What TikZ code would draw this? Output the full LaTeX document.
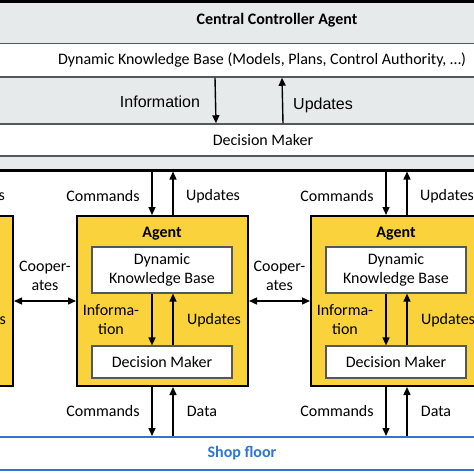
\documentclass[tikz,border=0pt]{standalone}
\usepackage{fontspec}
\setmainfont{Carlito}
\newfontfamily\arialfont{Liberation Sans}
\usetikzlibrary{arrows.meta,calc,positioning}
\definecolor{ccgray}{RGB}{231,234,235}
\definecolor{framegray}{RGB}{85,88,90}
\definecolor{agentyellow}{RGB}{250,210,60}
\definecolor{shopblue}{RGB}{46,117,212}

\begin{document}
\fontsize{16}{19}\selectfont
\begin{tikzpicture}[x=1pt,y=-1pt,>={Triangle[length=8pt,width=7pt]},
  arr/.style={->,line width=1.4pt},
  band/.style={draw=framegray,line width=1.5pt,fill=white,minimum width=560,inner sep=0pt},
  agentbox/.style={draw=black,line width=2pt,fill=agentyellow,minimum width=171,minimum height=170,inner sep=0pt},
  innerbox/.style={draw=framegray,line width=1.2pt,fill=white,minimum width=140,align=center,inner sep=0pt}]
  \useasboundingbox (0,0) rectangle (474,474);
  \clip (0,0) rectangle (474,474);
  \node[draw=black,line width=3pt,fill=ccgray,minimum width=600,minimum height=168.5] (cca) at (277,85.75) {};
  \node[font=\bfseries] (ccatitle) at (277,20) {Central Controller Agent};
  \node[band,minimum height=33.5] (ccdkb) at (262,60.25) {Dynamic Knowledge Base (Models, Plans, Control Authority, \dots)};
  \node[band,minimum height=32] (ccdm) at (263,140) {Decision Maker};
  \draw[arr] ($(ccdkb.south)+(-47,0)$) -- ($(ccdm.north)+(-47,0)$);
  \draw[arr] ($(ccdm.north)+(20,0)$) -- ($(ccdkb.south)+(20,0)$);
  \node[font=\arialfont] (ccinfo) at (160,102) {Information};
  \node[font=\arialfont] (ccupd) at (323,105) {Updates};
  \node[draw=shopblue,line width=2pt,fill=white,minimum width=600,minimum height=33,text=shopblue,font=\bfseries] (shop) at (242,453.5) {Shop floor};
  \node[agentbox] (agentL) at (-72.5,301) {};
  \node (updL) at (-21,320) {Updates};
  \node (updtopL) at (-22,196) {Updates};
  \foreach \a/\x in {M/77,R/311} {
    \node[agentbox] (agent\a) at (\x+85.5,301) {};
    \node[font=\bfseries] (agenttitle\a) at (\x+85,234) {Agent};
    \node[innerbox,minimum height=46] (dkb\a) at (\x+85,270) {Dynamic\\Knowledge Base};
    \node[innerbox,minimum height=32] (dm\a) at (\x+85,362) {Decision Maker};
    \draw[arr] ($(dkb\a.south)+(-10,0)$) -- ($(dm\a.north)+(-10,0)$);
    \draw[arr] ($(dm\a.north)+(11,0)$) -- ($(dkb\a.south)+(11,0)$);
    \node[align=center] (info\a) at (\x+34,320) {Informa-\\tion};
    \node (upd\a) at (\x+137,320) {Updates};
    \coordinate (cin\a) at ($(agent\a.north)+(-10.5,0)$);
    \coordinate (cout\a) at ($(agent\a.north)+(10.5,0)$);
    \coordinate (sin\a) at ($(agent\a.south)+(-10.5,0)$);
    \coordinate (sout\a) at ($(agent\a.south)+(10.5,0)$);
    \draw[arr] (cin\a |- cca.south) -- (cin\a);
    \draw[arr] (cout\a) -- (cout\a |- cca.south);
    \draw[arr] (sin\a) -- (sin\a |- shop.north);
    \draw[arr] (sout\a |- shop.north) -- (sout\a);
    \node (cmdtop\a) at (\x+26,196) {Commands};
    \node (updtop\a) at (\x+136,196) {Updates};
    \node (cmdbot\a) at (\x+26,411) {Commands};
    \node (data\a) at (\x+125,411) {Data};
  }
  \draw[<->,line width=1.4pt] (agentL.east) -- (agentM.west);
  \draw[<->,line width=1.4pt] (agentM.east) -- (agentR.west);
  \node[align=center] (coopLM) at (45,276) {Cooper-\\ates};
  \node[align=center] (coopMR) at (279.5,276) {Cooper-\\ates};
\end{tikzpicture}
\end{document}
